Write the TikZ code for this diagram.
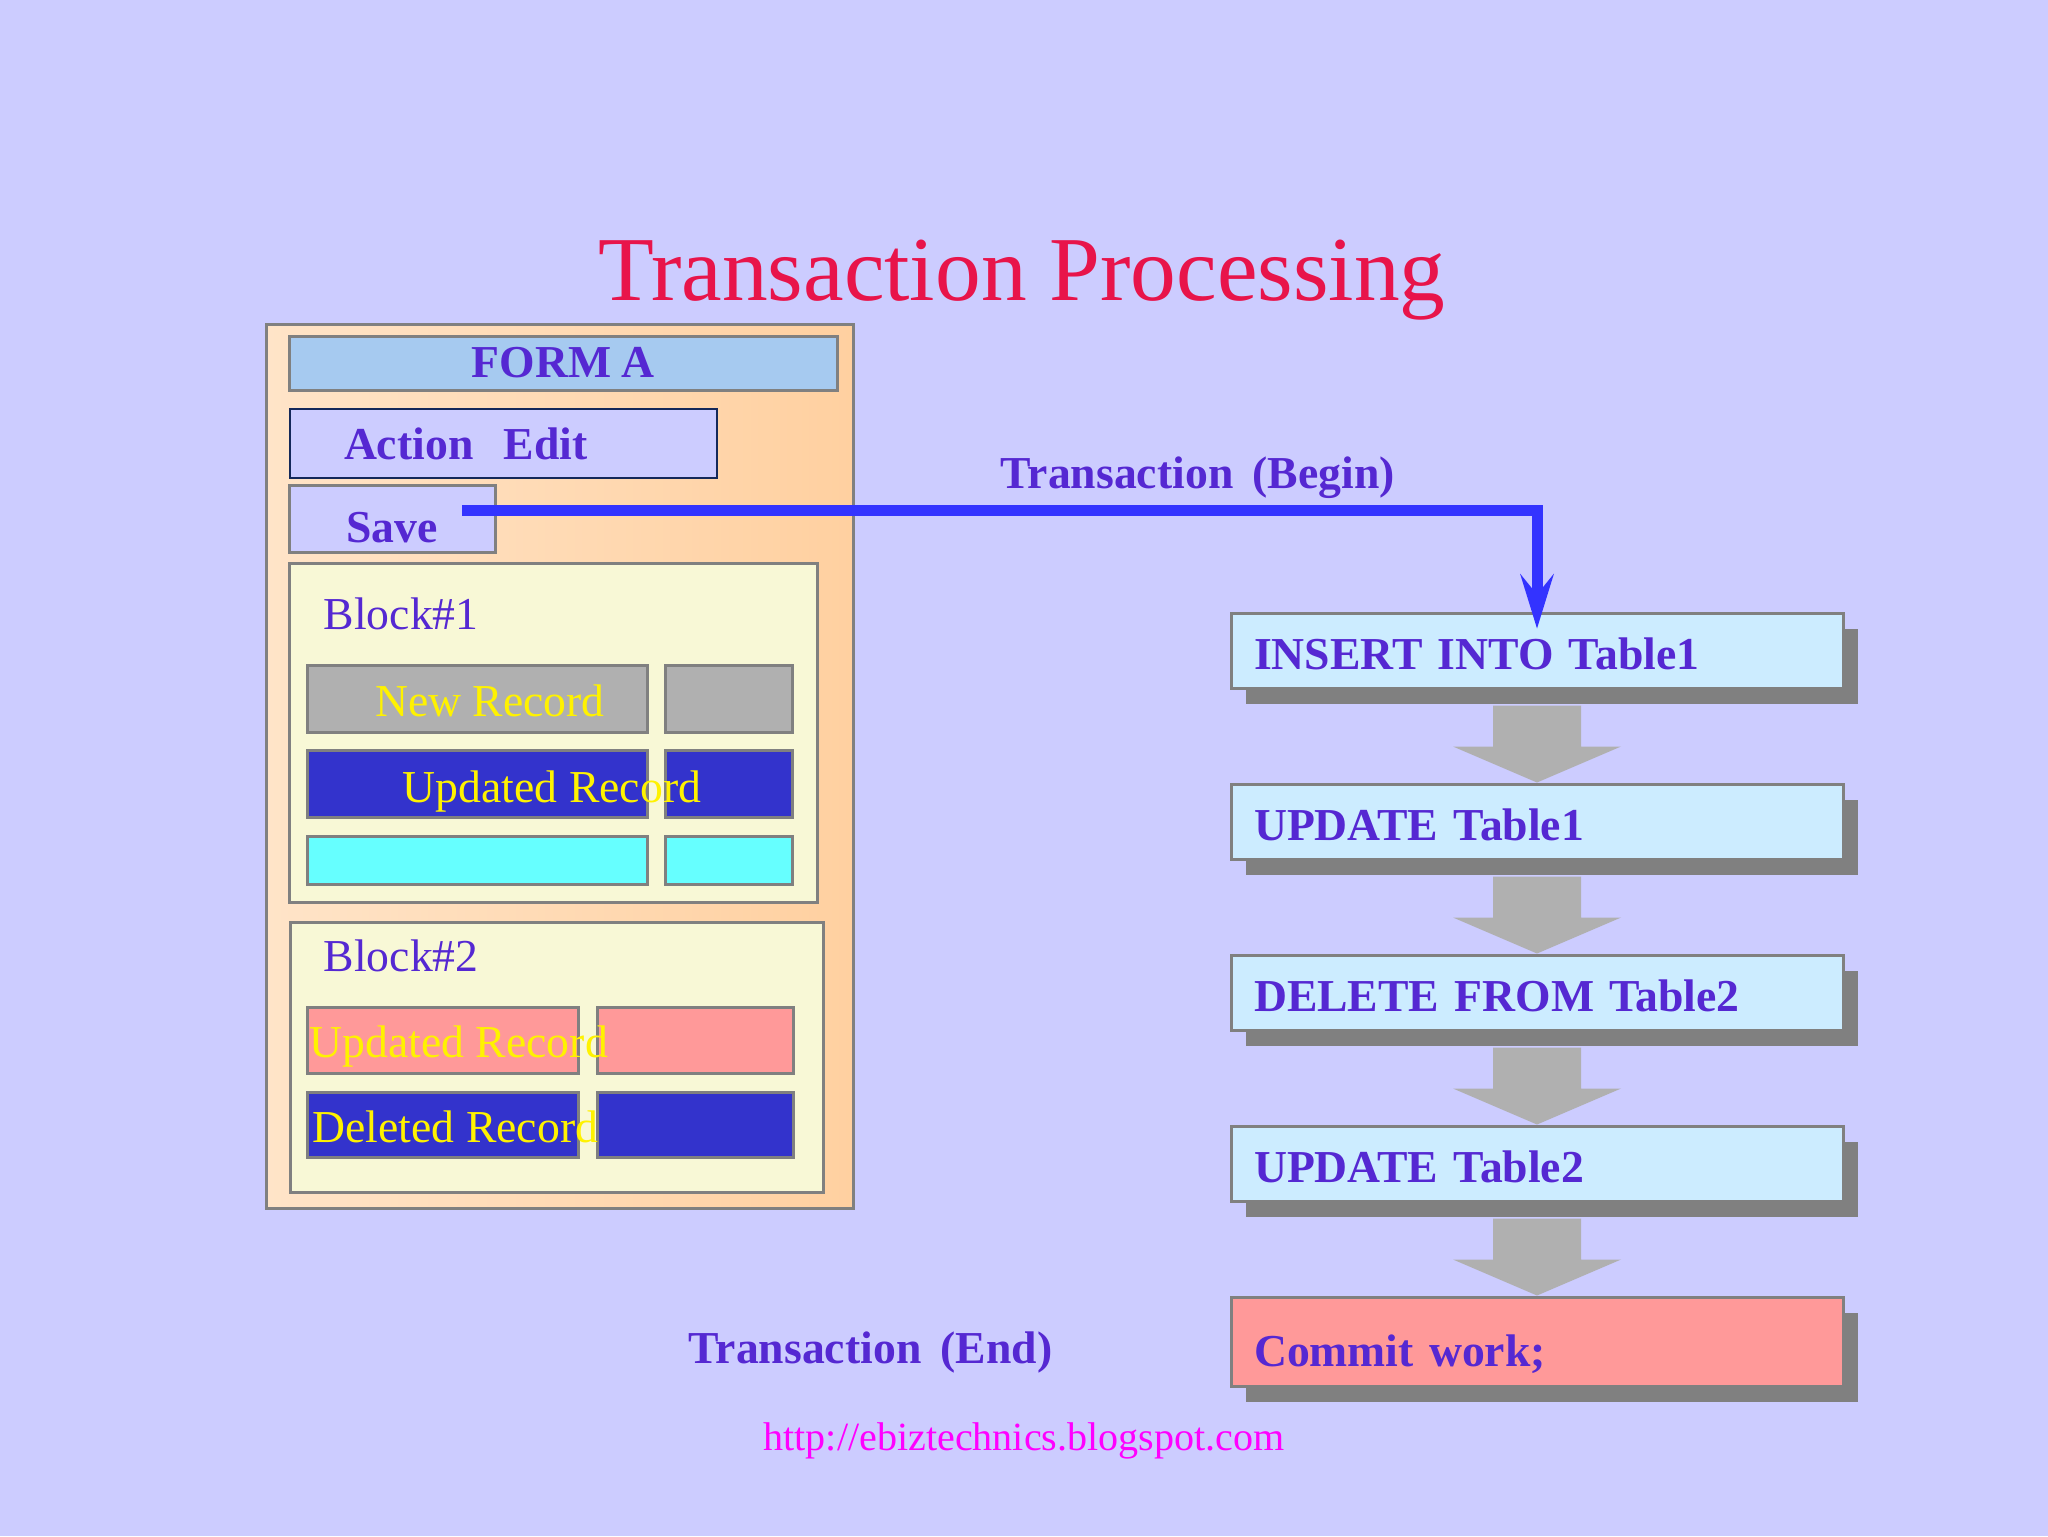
\documentclass[tikz,border=0pt]{standalone}
\usepackage{fontspec}
\setmainfont{Liberation Serif}
\usetikzlibrary{arrows.meta, positioning, shadows}
\definecolor{bglav}{RGB}{204,204,255}
\definecolor{titlered}{RGB}{232,20,74}
\definecolor{inkpurple}{RGB}{85,40,210}
\definecolor{linkblue}{RGB}{51,51,255}
\definecolor{recblue}{RGB}{51,51,204}
\definecolor{recgray}{RGB}{176,176,176}
\definecolor{reccyan}{RGB}{102,255,255}
\definecolor{recpink}{RGB}{255,153,153}
\definecolor{blockcream}{RGB}{248,248,214}
\definecolor{formblue}{RGB}{166,202,240}
\definecolor{sqlblue}{RGB}{204,236,255}
\definecolor{peachlt}{RGB}{255,228,200}
\definecolor{peachdk}{RGB}{255,208,160}
\definecolor{boxnavy}{RGB}{20,40,90}
\definecolor{urlpink}{RGB}{255,0,255}

\newcommand{\lblfont}{\fontsize{13}{15}\selectfont\bfseries\spaceskip 0.21em\relax}

% gray block arrow from one statement box down to the next
\newcommand{\flowarrow}[2]{%
  \fill[recgray] ([xshift=-4.4mm,yshift=-1.6mm]#1.south) -- ([xshift=-4.4mm,yshift=3.6mm]#2.north)
    -- ([xshift=-8.4mm,yshift=3.6mm]#2.north) -- (#2.north)
    -- ([xshift=8.4mm,yshift=3.6mm]#2.north) -- ([xshift=4.4mm,yshift=3.6mm]#2.north)
    -- ([xshift=4.4mm,yshift=-1.6mm]#1.south) -- cycle;}

\begin{document}
\begin{tikzpicture}[x=0.1mm, y=-0.1mm,
  frm/.style={draw=gray, line width=0.3mm, inner sep=0pt},
  lbl/.style={font=\lblfont, text=inkpurple},
  blk/.style={font=\fontsize{13}{15}\selectfont, text=inkpurple, inner sep=0pt, anchor=base west},
  rectxt/.style={font=\fontsize{13}{15}\selectfont, text=yellow, inner sep=0pt},
  sql/.style={draw=gray, line width=0.3mm, fill=sqlblue, minimum height=7.5mm, inner xsep=2.3mm,
    text width=56.6mm, align=left, text height=3.8mm, text depth=0pt, lbl,
    drop shadow={shadow xshift=1.5mm, shadow yshift=-1.6mm, fill=gray, opacity=1}},
]
  \fill[bglav] (0,0) rectangle (2048,1536);
  \useasboundingbox (0,0) rectangle (2048,1536);

  \node[font=\fontsize{26}{28}\selectfont, text=titlered, anchor=base] (title) at (1022,300) {Transaction Processing};

  % Form
  \node[frm, left color=peachlt, right color=peachdk, minimum width=58.7mm, minimum height=88.4mm] (forma) at (559.5,766) {};
  \node[frm, fill=formblue, minimum width=54.8mm, minimum height=5.4mm, lbl] (formbar) at (563,363) {FORM A};
  \node[draw=boxnavy, line width=0.2mm, fill=bglav, minimum height=6.9mm, inner xsep=5.4mm, text width=31.9mm, lbl] (action) at (503.5,443.5) {Action\ \ Edit};
  \node[frm, fill=bglav, minimum height=6.7mm, inner xsep=5.7mm, text width=9.2mm, text height=4.7mm, text depth=0pt, lbl] (save) at (392,518.5) {Save};

  % Block 1
  \node[frm, fill=blockcream, minimum width=52.8mm, minimum height=33.9mm] (blk1) at (553,732.5) {};
  \node[blk] (blk1lbl) at (323,629) {Block\#1};
  \node[frm, fill=recgray, minimum width=34mm, minimum height=6.7mm] (newl) at (477,698.5) {};
  \node[frm, fill=recgray, minimum width=12.7mm, minimum height=6.7mm] (newr) at (728.5,698.5) {};
  \node[frm, fill=recblue, minimum width=34mm, minimum height=6.7mm] (updl) at (477,783.5) {};
  \node[frm, fill=recblue, minimum width=12.7mm, minimum height=6.7mm] (updr) at (728.5,783.5) {};
  \node[frm, fill=reccyan, minimum width=34mm, minimum height=4.8mm] (cyl) at (477,860) {};
  \node[frm, fill=reccyan, minimum width=12.7mm, minimum height=4.8mm] (cyr) at (728.5,860) {};
  \node[rectxt, anchor=base] (newtxt) at (490,716) {New Record};
  \node[rectxt, anchor=base] (updtxt) at (552,802) {Updated Record};

  % Block 2
  \node[frm, fill=blockcream, minimum width=53.3mm, minimum height=27mm] (blk2) at (556.5,1057) {};
  \node[blk] (blk2lbl) at (323,971) {Block\#2};
  \node[frm, fill=recpink, minimum width=27.1mm, minimum height=6.6mm] (pinkl) at (442.5,1040) {};
  \node[frm, fill=recpink, minimum width=19.6mm, minimum height=6.6mm] (pinkr) at (695,1040) {};
  \node[frm, fill=recblue, minimum width=27.1mm, minimum height=6.5mm] (dell) at (442.5,1124.5) {};
  \node[frm, fill=recblue, minimum width=19.6mm, minimum height=6.5mm] (delr) at (695,1124.5) {};
  \node[rectxt, anchor=base west] (upd2txt) at (309,1057) {Updated Record};
  \node[rectxt, anchor=base west] (deltxt) at (312,1142) {Deleted Record};

  % SQL statements
  \node[sql] (ins) at (1537,650.5) {INSERT INTO Table1};
  \node[sql, below=9.3mm of ins] (upd1) {UPDATE Table1};
  \node[sql, below=9.3mm of upd1] (del2) {DELETE FROM Table2};
  \node[sql, below=9.3mm of del2] (upd2) {UPDATE Table2};
  \node[sql, fill=recpink, minimum height=8.9mm, text height=4.9mm, below=9.3mm of upd2] (commit) {Commit work;};

  \flowarrow{ins}{upd1}
  \flowarrow{upd1}{del2}
  \flowarrow{del2}{upd2}
  \flowarrow{upd2}{commit}

  % Transaction begin
  \coordinate (savetap) at (462,510);
  \draw[linkblue, line width=1.1mm, -{Stealth[length=5.5mm, width=3.4mm, inset=2.1mm, line width=0pt]}]
    (savetap) -| ([yshift=-1.7mm]ins.north);
  \node[lbl, anchor=base west, inner sep=0pt] (txbegin) at (1000,488) {Transaction\ \ (Begin)};

  \node[lbl, anchor=base west, inner sep=0pt] (txend) at (688,1363) {Transaction\ \ (End)};
  \node[font=\fontsize{11.4}{13}\selectfont, text=urlpink, anchor=base, inner sep=0pt] (url) at (1024,1450) {http://ebiztechnics.blogspot.com};
\end{tikzpicture}
\end{document}
